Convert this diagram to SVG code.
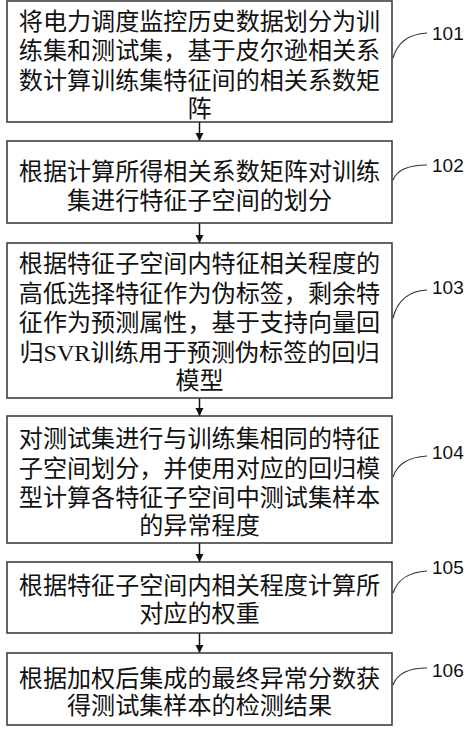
<svg xmlns="http://www.w3.org/2000/svg" width="474" height="731" viewBox="0 0 474 731">
<style>
.box{fill:#fff;stroke:#333;stroke-width:1.5}
.t{font-family:"Noto Sans CJK SC","Noto Sans",sans-serif;font-size:24.1px;fill:#111;text-anchor:middle}
.s{font-family:"Liberation Serif",serif}
.lbl{font-family:"Liberation Sans",Arial,sans-serif;font-size:19px;fill:#111}
.lead{fill:none;stroke:#333;stroke-width:1.2}
.conn{stroke:#111;stroke-width:1.5;fill:none;marker-end:url(#ah)}
</style>
<defs>
<marker id="ah" markerWidth="8" markerHeight="10" refX="8" refY="5" orient="auto" markerUnits="userSpaceOnUse">
<path d="M0,1 L8,5 L0,9 Z" fill="#111"/>
</marker>
</defs>
<rect width="474" height="731" fill="#fff"/>
<g id="connectors">
<line class="conn" x1="199.5" y1="122" x2="199.5" y2="141"/>
<line class="conn" x1="199.5" y1="223" x2="199.5" y2="243"/>
<line class="conn" x1="199.5" y1="398" x2="199.5" y2="416"/>
<line class="conn" x1="199.5" y1="543" x2="199.5" y2="562"/>
<line class="conn" x1="199.5" y1="633" x2="199.5" y2="653"/>
</g>
<g id="n101">
<rect class="box" x="7" y="1" width="385" height="121"/>
<text class="t"><tspan x="199.5" y="30">将电力调度监控历史数据划分为训</tspan><tspan x="199.5" y="59">练集和测试集，基于皮尔逊相关系</tspan><tspan x="199.5" y="89">数计算训练集特征间的相关系数矩</tspan><tspan x="199.5" y="117">阵</tspan></text>
<path class="lead" d="M393,58 C397,44 408,34 427,33"/>
<text class="lbl" x="432" y="40">101</text>
</g>
<g id="n102">
<rect class="box" x="7" y="141" width="385" height="82"/>
<text class="t"><tspan x="199.5" y="180">根据计算所得相关系数矩阵对训练</tspan><tspan x="199.5" y="209">集进行特征子空间的划分</tspan></text>
<path class="lead" d="M393,180 C397,170 408,165 427,165"/>
<text class="lbl" x="432" y="172">102</text>
</g>
<g id="n103">
<rect class="box" x="7" y="243" width="385" height="155"/>
<text class="t"><tspan x="199.5" y="272">根据特征子空间内特征相关程度的</tspan><tspan x="199.5" y="302">高低选择特征作为伪标签，剩余特</tspan><tspan x="199.5" y="331">征作为预测属性，基于支持向量回</tspan><tspan x="199.5" y="361">归<tspan class="s">SVR</tspan>训练用于预测伪标签的回归</tspan><tspan x="199.5" y="389">模型</tspan></text>
<path class="lead" d="M393,318 C397,302 408,291 427,290"/>
<text class="lbl" x="432" y="294">103</text>
</g>
<g id="n104">
<rect class="box" x="7" y="416" width="385" height="127"/>
<text class="t"><tspan x="199.5" y="447">对测试集进行与训练集相同的特征</tspan><tspan x="199.5" y="477">子空间划分，并使用对应的回归模</tspan><tspan x="199.5" y="506">型计算各特征子空间中测试集样本</tspan><tspan x="199.5" y="534">的异常程度</tspan></text>
<path class="lead" d="M393,477 C397,465 408,457 427,456"/>
<text class="lbl" x="432" y="459">104</text>
</g>
<g id="n105">
<rect class="box" x="7" y="562" width="385" height="71"/>
<text class="t"><tspan x="199.5" y="594">根据特征子空间内相关程度计算所</tspan><tspan x="199.5" y="622">对应的权重</tspan></text>
<path class="lead" d="M393,593 C397,581 408,572 427,571"/>
<text class="lbl" x="432" y="574">105</text>
</g>
<g id="n106">
<rect class="box" x="7" y="653" width="385" height="72"/>
<text class="t"><tspan x="199.5" y="687">根据加权后集成的最终异常分数获</tspan><tspan x="199.5" y="714">得测试集样本的检测结果</tspan></text>
<path class="lead" d="M393,685 C397,674 408,668 427,668"/>
<text class="lbl" x="432" y="677">106</text>
</g>
</svg>
